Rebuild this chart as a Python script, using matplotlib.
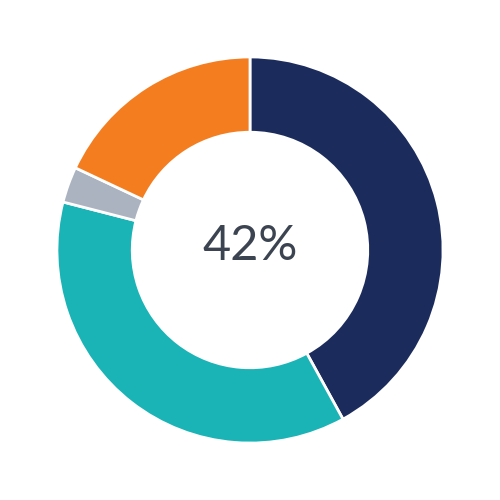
import matplotlib.pyplot as plt

# slice shares, clockwise from 12 o'clock
labels = ['Navy', 'Teal', 'Gray', 'Orange']
values = [42, 37, 3, 18]
colors = ['#1b2b5b', '#1ab3b6', '#aab3bf', '#f47d20']
center_text = '42%'

fig = plt.figure(figsize=(5, 5), dpi=100)
ax = fig.add_axes([0, 0, 1, 1])

ax.pie(values, colors=colors, startangle=90, counterclock=False,
       radius=1, wedgeprops=dict(width=0.39, edgecolor='white', linewidth=2))

ax.text(0, 0.02, center_text, ha='center', va='center', fontsize=35,
        color='#3b4450', family=['Lato', 'DejaVu Sans'])

lim = 1.295
ax.set_xlim(-lim, lim)
ax.set_ylim(-lim, lim)
ax.set_aspect('equal')
ax.axis('off')

plt.savefig('out.png', dpi=100)
